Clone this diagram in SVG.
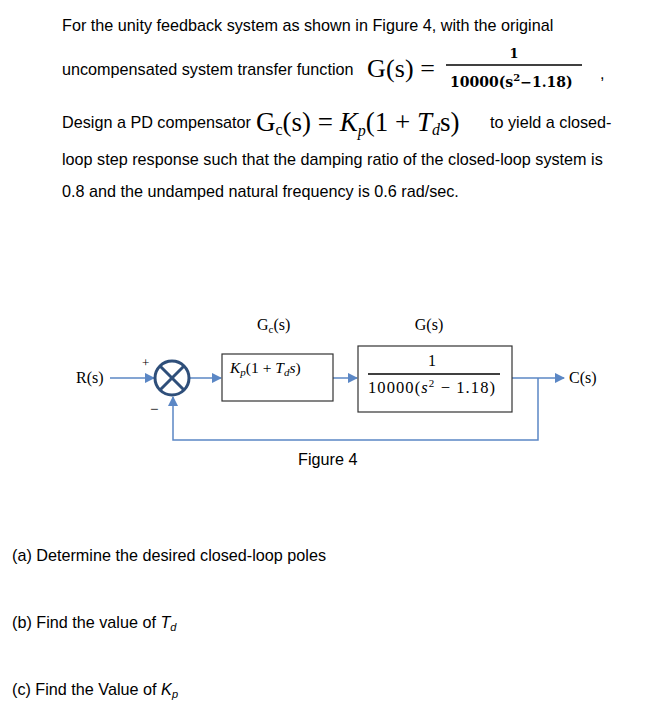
<svg xmlns="http://www.w3.org/2000/svg" width="650" height="727" viewBox="0 0 650 727">
<defs>
<style>
.t{font-family:"Liberation Sans",Arial,sans-serif;font-size:16.2px;fill:#000}
.m{font-family:"Liberation Serif","Times New Roman",serif;fill:#000}
.d{font-family:"DejaVu Serif",serif;fill:#000}
.c{stroke:#5b87c5;stroke-width:1.5;fill:none}
.b{fill:#fff;stroke:#333;stroke-width:1.2}
</style>
<marker id="a" viewBox="0 0 10 10" refX="9" refY="5" markerWidth="7" markerHeight="7" orient="auto"><path d="M0,0L10,5L0,10z" fill="#5b87c5"/></marker>
</defs>
<rect width="650" height="727" fill="#fff"/>
<text class="t" x="62" y="31">For the unity feedback system as shown in Figure 4, with the original</text>
<text class="t" x="62" y="75">uncompensated system transfer function</text>
<text class="m" x="367" y="77" font-size="26" textLength="68">G(s) =</text>
<text class="d" x="514" y="58" font-size="13" font-weight="bold" text-anchor="middle">1</text>
<line x1="446" y1="65" x2="582" y2="65" stroke="#000" stroke-width="1.3"/>
<text class="d" x="450" y="87" font-size="14" font-weight="bold">10000(s<tspan font-size="10" dy="-6">2</tspan><tspan dy="6">−1.18)</tspan></text>
<text class="t" x="600" y="79">,</text>
<text class="t" x="62" y="128">Design a PD compensator</text>
<text class="m" x="256" y="131" font-size="27">G<tspan font-size="16" dy="4">c</tspan><tspan dy="-4">(s) = </tspan><tspan font-style="italic">K</tspan><tspan font-size="16" font-style="italic" dy="5">p</tspan><tspan dy="-5">(1 + </tspan><tspan font-style="italic">T</tspan><tspan font-size="16" font-style="italic" dy="4">d</tspan><tspan dy="-4">s)</tspan></text>
<text class="t" x="490" y="128">to yield a closed-</text>
<text class="t" x="62" y="165">loop step response such that the damping ratio of the closed-loop system is</text>
<text class="t" x="62" y="197">0.8 and the undamped natural frequency  is 0.6 rad/sec.</text>

<g id="connectors">
<line class="c" x1="110" y1="378" x2="154" y2="378" marker-end="url(#a)"/>
<line class="c" x1="190" y1="378" x2="221" y2="378" marker-end="url(#a)"/>
<line class="c" x1="333" y1="378" x2="357" y2="378" marker-end="url(#a)"/>
<line class="c" x1="512" y1="378" x2="564" y2="378" marker-end="url(#a)"/>
<polyline class="c" points="538,378 538,440 173,440 173,397" marker-end="url(#a)"/>
</g>
<g id="sum">
<circle cx="172" cy="378" r="17" fill="#fff" stroke="#2f4f7a" stroke-width="3"/>
<line x1="160" y1="366" x2="184" y2="390" stroke="#2f4f7a" stroke-width="3"/>
<line x1="184" y1="366" x2="160" y2="390" stroke="#2f4f7a" stroke-width="3"/>
<text class="m" x="142" y="367" font-size="13">+</text>
<text class="m" x="150" y="414" font-size="15">−</text>
</g>
<g id="R"><text class="m" x="76" y="383" font-size="16">R(s)</text></g>
<g id="C"><text class="m" x="569" y="383" font-size="16">C(s)</text></g>
<g id="Gc">
<rect class="b" x="222" y="354" width="111" height="47"/>
<text class="m" x="230" y="373" font-size="15.5"><tspan font-style="italic">K</tspan><tspan font-size="11" font-style="italic" dy="3">p</tspan><tspan dy="-3">(1 + </tspan><tspan font-style="italic">T</tspan><tspan font-size="11" font-style="italic" dy="3">d</tspan><tspan font-style="italic" dy="-3">s</tspan>)</text>
<text class="m" x="257" y="330" font-size="16">G<tspan font-size="11" dy="3">c</tspan><tspan dy="-3">(s)</tspan></text>
</g>
<g id="G">
<rect class="b" x="358" y="346" width="154" height="66"/>
<text class="m" x="432" y="366" font-size="16" text-anchor="middle">1</text>
<line x1="368" y1="374" x2="500" y2="374" stroke="#000" stroke-width="1.5"/>
<text class="m" x="368" y="393" font-size="16.5" textLength="127">10000(<tspan font-style="italic">s</tspan><tspan font-size="11" dy="-6">2</tspan><tspan dy="6"> − 1.18)</tspan></text>
<text class="m" x="429" y="330" font-size="16" text-anchor="middle">G(s)</text>
</g>
<text class="t" x="298" y="465">Figure 4</text>
<text class="t" x="12" y="561" font-size="16.5">(a) Determine the desired closed-loop poles</text>
<text class="t" x="12" y="628" font-size="16.5">(b) Find the value of <tspan font-style="italic">T</tspan><tspan font-style="italic" font-size="11" dy="3">d</tspan></text>
<text class="t" x="12" y="695" font-size="16.5">(c) Find the Value of <tspan font-style="italic">K</tspan><tspan font-style="italic" font-size="11" dy="3">p</tspan></text>
</svg>
